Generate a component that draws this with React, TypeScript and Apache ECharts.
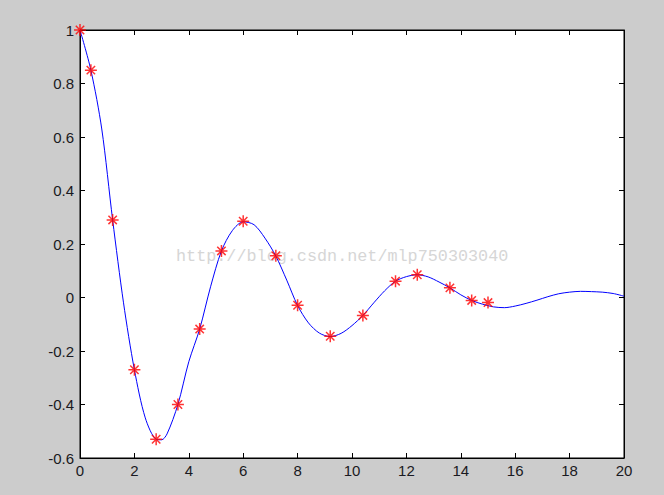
import React, { useEffect, useRef } from "react";
import * as echarts from "echarts";

// Blue curve
const curveX = [0, 0.4, 0.8, 1.2, 1.6, 2.0, 2.4, 2.8, 3.0, 3.2, 3.6, 4.0, 4.4, 4.8, 5.2, 5.6, 6.0, 6.4, 6.8, 7.2, 7.6, 8.0, 8.4, 8.8, 9.2, 9.6, 10.0, 10.4, 10.8, 11.2, 11.6, 12.0, 12.4, 12.8, 13.2, 13.6, 14.0, 14.4, 14.8, 15.2, 15.6, 16.0, 16.4, 16.8, 17.2, 17.6, 18.0, 18.4, 18.8, 19.2, 19.6, 20.0];
const curveY = [1, 0.85, 0.63, 0.29, -0.02, -0.27, -0.45, -0.53, -0.532, -0.51, -0.40, -0.24, -0.118, 0.04, 0.174, 0.25, 0.283, 0.272, 0.222, 0.155, 0.065, -0.03, -0.095, -0.133, -0.146, -0.134, -0.105, -0.067, -0.02, 0.025, 0.061, 0.078, 0.085, 0.077, 0.058, 0.036, 0.01, -0.011, -0.025, -0.035, -0.038, -0.032, -0.022, -0.01, 0.003, 0.014, 0.02, 0.023, 0.022, 0.02, 0.015, 0.005];

// Red star samples
const starX = [0, 0.4, 1.2, 2.0, 2.8, 3.6, 4.4, 5.2, 6.0, 7.2, 8.0, 9.2, 10.4, 11.6, 12.4, 13.6, 14.4, 15.0];
const starY = [1, 0.85, 0.29, -0.27, -0.53, -0.4, -0.118, 0.174, 0.285, 0.156, -0.029, -0.145, -0.067, 0.061, 0.085, 0.036, -0.011, -0.019];

const xTicks = { min: 0, max: 20, interval: 2 };
const yTicks = { min: -0.6, max: 1, interval: 0.2 };
const watermark = "http://blog.csdn.net/mlp750303040";

const STAR = "path://M0,-6L0,6M-6,0L6,0M-4.2,-4.2L4.2,4.2M-4.2,4.2L4.2,-4.2";

export default function App() {
  const ref = useRef<HTMLDivElement>(null);
  useEffect(() => {
    const chart = echarts.init(ref.current!, null, { renderer: "svg" });
    const labelStyle = { color: "#1a1a22", fontSize: 15, fontFamily: "Liberation Sans, Arial, sans-serif" };
    const lineStyle = { color: "#000", width: 1 };
    chart.setOption({
      animation: false,
      backgroundColor: "#cccccc",
      grid: { left: 80, top: 30, right: 40, bottom: 37, show: true, backgroundColor: "#ffffff", borderColor: "#000", borderWidth: 1 },
      xAxis: [
        {
          type: "value", ...xTicks, position: "bottom",
          axisLine: { show: true, lineStyle, onZero: false },
          axisTick: { show: true, inside: true, length: 5, lineStyle },
          axisLabel: { ...labelStyle, margin: 5 },
          splitLine: { show: false },
        },
        {
          type: "value", ...xTicks, position: "top",
          axisLine: { show: true, lineStyle, onZero: false },
          axisTick: { show: true, inside: true, length: 5, lineStyle },
          axisLabel: { show: false },
          splitLine: { show: false },
        },
      ],
      yAxis: [
        {
          type: "value", ...yTicks, position: "left",
          axisLine: { show: true, lineStyle, onZero: false },
          axisTick: { show: true, inside: true, length: 5, lineStyle },
          axisLabel: { ...labelStyle, margin: 6 },
          splitLine: { show: false },
        },
        {
          type: "value", ...yTicks, position: "right",
          axisLine: { show: true, lineStyle, onZero: false },
          axisTick: { show: true, inside: true, length: 5, lineStyle },
          axisLabel: { show: false },
          splitLine: { show: false },
        },
      ],
      graphic: [
        {
          type: "text", left: 176, top: 248, silent: true, z: 0,
          style: { text: watermark, fill: "#d6d6d6", fontSize: 16.8, fontFamily: "Liberation Mono, Courier New, monospace" },
        },
      ],
      series: [
        {
          type: "line",
          data: curveX.map((x, i) => [x, curveY[i]]),
          smooth: 0.3,
          showSymbol: false,
          lineStyle: { color: "#0000ff", width: 1 },
          z: 2,
        },
        {
          type: "scatter",
          data: starX.map((x, i) => [x, starY[i]]),
          symbol: STAR,
          symbolSize: 12,
          itemStyle: { color: "rgba(0,0,0,0)", borderColor: "#ff0000", borderWidth: 1.5 },
          z: 3,
        },
      ],
    });
    return () => chart.dispose();
  }, []);
  return <div ref={ref} style={{ position: "fixed", left: 0, top: 0, width: 664, height: 495 }} />;
}
